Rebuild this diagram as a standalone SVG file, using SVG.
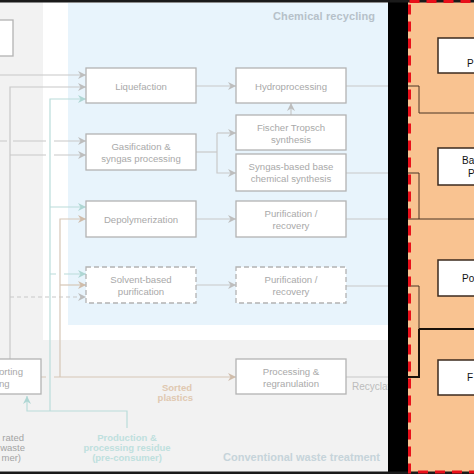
<svg xmlns="http://www.w3.org/2000/svg" width="474" height="474" viewBox="0 0 474 474">
<style>
text{font-family:"Liberation Sans",Arial,sans-serif}
.bx{fill:#fff;stroke:#b3b3b3;stroke-width:1.3}
.dbx{fill:#fff;stroke:#b3b3b3;stroke-width:1.3;stroke-dasharray:5 3}
.t{font-size:9.6px;fill:#a9a9a9;text-anchor:middle}
.ln{fill:none;stroke:#c8c8c8;stroke-width:1.2}
.lt{fill:none;stroke:#b9dcda;stroke-width:1.2}
.lb{fill:none;stroke:#d6c6b6;stroke-width:1.2}
.ob{fill:#fff;stroke:#3b2a1e;stroke-width:1.5}
.ot{font-size:10px;fill:#111}
.oc{fill:none;stroke:#4a3525;stroke-width:1}
</style>
<defs>
<marker id="ag" markerUnits="userSpaceOnUse" markerWidth="9" markerHeight="9" refX="8" refY="4" orient="auto"><path d="M0,0 L8,4 L0,8 L2.5,4 z" fill="#bdbdbd"/></marker>
<marker id="at" markerUnits="userSpaceOnUse" markerWidth="9" markerHeight="9" refX="8" refY="4" orient="auto"><path d="M0,0 L8,4 L0,8 L2.5,4 z" fill="#aed6d3"/></marker>
<marker id="ab" markerUnits="userSpaceOnUse" markerWidth="9" markerHeight="9" refX="8" refY="4" orient="auto"><path d="M0,0 L8,4 L0,8 L2.5,4 z" fill="#cfbcaa"/></marker>
</defs>
<rect width="474" height="474" fill="#fff"/>
<rect x="0" y="0" width="43" height="474" fill="#f2f2f2"/>
<rect x="0" y="340" width="388" height="134" fill="#f2f2f2"/>
<rect x="68" y="3" width="320" height="322" fill="#e8f4fc"/>
<text x="273" y="20" font-size="11" font-weight="bold" fill="#b6c1c9" textLength="102" lengthAdjust="spacing">Chemical recycling</text>
<text x="223" y="461" font-size="11" font-weight="bold" fill="#c6d4da" textLength="157" lengthAdjust="spacing">Conventional waste treatment</text>

<g id="connectors">
<path class="ln" d="M0,75 H86" marker-end="url(#ag)"/>
<path class="ln" d="M10,359 V87 H86" marker-end="url(#ag)"/>
<path class="ln" d="M0,141 H7 M13,141 H46 M54,141 H86" marker-end="url(#ag)"/>
<path class="ln" d="M10,155 H46 M54,155 H86" marker-end="url(#ag)"/>
<path class="ln" d="M10,297 H86" stroke-dasharray="4 3" marker-end="url(#ag)"/>
<path class="lt" d="M50,411 V99 H86" marker-end="url(#at)"/>
<path class="lt" d="M50,207 H86" marker-end="url(#at)"/>
<path class="lt" d="M50,274 H56 M64,274 H86" marker-end="url(#at)"/>
<path class="lt" d="M127,428 V411 H27 V396" marker-end="url(#at)"/>
<path class="lb" d="M41,377 H46 M54,377 H236" marker-end="url(#ab)"/>
<path class="lb" d="M60,377 V219 H86" marker-end="url(#ab)"/>
<path class="lb" d="M60,285 H86" marker-end="url(#ab)"/>
<path class="ln" d="M196,86 H236" marker-end="url(#ag)"/>
<path class="ln" d="M291,115 V103" marker-end="url(#ag)"/>
<path class="ln" d="M196,152 H217"/>
<path class="ln" d="M217,133 H236" marker-end="url(#ag)"/>
<path class="ln" d="M217,133 V173 H236" marker-end="url(#ag)"/>
<path class="ln" d="M196,219 H236" marker-end="url(#ag)"/>
<path class="ln" d="M196,285 H236" marker-end="url(#ag)"/>
<path class="ln" d="M346,86 H388 M346,173 H388 M346,219 H388 M346,286 H388 M346,377 H388"/>
</g>

<g id="n-top"><rect class="bx" x="-10" y="20" width="23" height="36"/></g>
<g id="n-liq"><rect class="bx" x="86" y="68" width="110" height="35"/><text class="t" x="141" y="89.5">Liquefaction</text></g>
<g id="n-hydro"><rect class="bx" x="236" y="68" width="110" height="35"/><text class="t" x="291" y="89.5">Hydroprocessing</text></g>
<g id="n-ft"><rect class="bx" x="236" y="115" width="110" height="35"/><text class="t" x="291" y="131">Fischer Tropsch</text><text class="t" x="291" y="143">synthesis</text></g>
<g id="n-gas"><rect class="bx" x="86" y="134" width="110" height="36"/><text class="t" x="141" y="149.5">Gasification &amp;</text><text class="t" x="141" y="161.5">syngas processing</text></g>
<g id="n-syn"><rect class="bx" x="236" y="154" width="110" height="37"/><text class="t" x="291" y="169.5">Syngas-based base</text><text class="t" x="291" y="181.5">chemical synthesis</text></g>
<g id="n-depol"><rect class="bx" x="86" y="201" width="110" height="36"/><text class="t" x="141" y="222.5">Depolymerization</text></g>
<g id="n-pur1"><rect class="bx" x="236" y="201" width="110" height="36"/><text class="t" x="291" y="216.5">Purification /</text><text class="t" x="291" y="228.5">recovery</text></g>
<g id="n-solv"><rect class="dbx" x="86" y="267" width="110" height="36"/><text class="t" x="141" y="282.5">Solvent-based</text><text class="t" x="141" y="294.5">purification</text></g>
<g id="n-pur2"><rect class="dbx" x="236" y="267" width="110" height="36"/><text class="t" x="291" y="282.5">Purification /</text><text class="t" x="291" y="294.5">recovery</text></g>
<g id="n-proc"><rect class="bx" x="236" y="359" width="110" height="35"/><text class="t" x="291" y="374.5">Processing &amp;</text><text class="t" x="291" y="386.5">regranulation</text></g>
<g id="n-sort"><rect class="bx" x="-10" y="359" width="51" height="35"/><text class="t" x="-1" y="375" style="text-anchor:start">orting</text><text class="t" x="-1" y="386.5" style="text-anchor:start">ng</text></g>

<g id="labels">
<text x="192" y="391" font-size="9.5" font-weight="bold" fill="#e0c8b0" text-anchor="end">Sorted</text>
<text x="193" y="401" font-size="9.5" font-weight="bold" fill="#e0c8b0" text-anchor="end">plastics</text>
<g font-size="9.5" font-weight="bold" fill="#bfe0de" text-anchor="middle">
<text x="127" y="441">Production &amp;</text>
<text x="127" y="451">processing residue</text>
<text x="127" y="461">(pre-consumer)</text>
</g>
<g font-size="9.5" fill="#a3a3a3" text-anchor="end">
<text x="24" y="441">rated</text>
<text x="25" y="451">waste</text>
<text x="21" y="461">mer)</text>
</g>
<text x="352" y="390" font-size="10" fill="#bcbcbc">Recyclat</text>
</g>

<rect x="388" y="0" width="20" height="474" fill="#000"/>
<rect x="408" y="0" width="66" height="474" fill="#f9c391"/>

<g id="orange-connectors">
<path class="oc" d="M408,86 H419 V113 H474"/>
<path class="oc" d="M408,173 H419 V219"/>
<path class="oc" d="M408,219 H474"/>
<path class="oc" d="M408,286 H419 V329"/>
<path d="M419,329 V377 H408 M419,329 H474" fill="none" stroke="#1a1008" stroke-width="2"/>
</g>
<g id="o1"><rect class="ob" x="438" y="38" width="60" height="35"/><text class="ot" x="467" y="67">P</text></g>
<g id="o2"><rect class="ob" x="438" y="148" width="60" height="37"/><text class="ot" x="462" y="164">Ba</text><text class="ot" x="468" y="177">P</text></g>
<g id="o3"><rect class="ob" x="438" y="260" width="60" height="36"/><text class="ot" x="462" y="281.5">Po</text></g>
<g id="o4"><rect class="ob" x="438" y="360" width="60" height="35"/><text class="ot" x="467" y="381">F</text></g>

<rect x="0" y="0" width="474" height="2.5" fill="#1a1a1a"/>
<rect x="0" y="471.5" width="474" height="2.5" fill="#1a1a1a"/>
<rect x="409.5" y="1.5" width="80" height="470.5" fill="none" stroke="#e8101a" stroke-width="3" stroke-dasharray="10 7"/>
</svg>
